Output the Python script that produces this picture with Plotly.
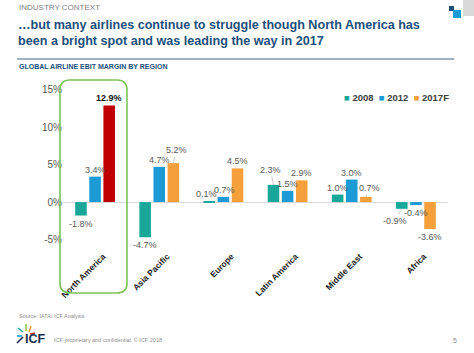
import plotly.graph_objects as go

# ---- data ----
regions = ["North America", "Asia Pacific", "Europe", "Latin America", "Middle East", "Africa"]
series_names = ["2008", "2012", "2017F"]
v2008 = [-1.8, -4.7, 0.1, 2.3, 1.0, -0.9]
v2012 = [3.4, 4.7, 0.7, 1.5, 3.0, -0.4]
v2017 = [12.9, 5.2, 4.5, 2.9, 0.7, -3.6]
y_ticks = [-5, 0, 5, 10, 15]

# ---- style ----
W, H = 474, 353
ML, MR, MT, MB = 63, 26, 86, 106
PW, PH = W - ML - MR, H - MT - MB
YMIN, YMAX = -6, 15.5
c_teal, c_blue, c_orange, c_red = "#19a79a", "#1b9ad6", "#f5a03b", "#c00000"
navy = "#1b4f7c"
gray = "#595959"
FONT = "Liberation Sans, Arial, sans-serif"

def xp(px):
    return (px - ML) / PW

def yp(py):
    return (H - MB - py) / PH

fig = go.Figure()
xs = list(range(len(regions)))
colors_2017 = [c_red] + [c_orange] * (len(regions) - 1)
for name, vals, col in [("2008", v2008, c_teal), ("2012", v2012, c_blue), ("2017F", v2017, colors_2017)]:
    fig.add_trace(go.Bar(x=xs, y=vals, name=name, marker=dict(color=col, line=dict(width=0)),
                         showlegend=False, hoverinfo="skip"))

BARGAP = 0.34
slot = (1 - BARGAP) / 3
annotations = []
# label offsets (style): (series index, region index) -> (ax, ay) in px for leader-line labels
leader = {(2, 1): (3, -13), (0, 3): (-3, -15), (2, 4): (4, -9), (0, 5): (-7, 12)}
xshift = {(0, 2): -3, (1, 2): 1}
for si, vals in enumerate([v2008, v2012, v2017]):
    for ri, v in enumerate(vals):
        xc = ri + (si - 1) * slot
        txt = f"{v:.1f}%"
        bold = (si == 2 and ri == 0)
        font = dict(family=FONT, size=9, color="#111111" if bold else gray)
        if bold:
            txt = "<b>" + txt + "</b>"
        if (si, ri) in leader:
            ax, ay = leader[(si, ri)]
            annotations.append(dict(x=xc, y=v, xref="x", yref="y", text=txt, showarrow=True,
                                    arrowhead=0, arrowwidth=0.8, arrowcolor="#bfbfbf",
                                    ax=ax, ay=ay, font=font, standoff=0))
        else:
            annotations.append(dict(x=xc, y=v, xref="x", yref="y", text=txt, showarrow=False,
                                    yanchor="bottom" if v >= 0 else "top",
                                    xshift=xshift.get((si, ri), 0),
                                    yshift=0 if v >= 0 else -1, font=font))

# header texts
annotations += [
    dict(x=xp(17), y=yp(7), xref="paper", yref="paper", text="INDUSTRY CONTEXT", showarrow=False,
         xanchor="left", yanchor="middle", font=dict(family=FONT, size=8, color="#7f7f7f")),
    dict(x=xp(16), y=yp(33), xref="paper", yref="paper",
         text="<b>…but many airlines continue to struggle though North America has<br>been a bright spot and was leading the way in 2017</b>",
         showarrow=False, xanchor="left", yanchor="middle", align="left",
         font=dict(family=FONT, size=12.6, color=navy)),
    dict(x=xp(17), y=yp(66), xref="paper", yref="paper", text="<b>GLOBAL AIRLINE EBIT MARGIN BY REGION</b>",
         showarrow=False, xanchor="left", yanchor="middle", font=dict(family=FONT, size=7, color=navy)),
    dict(x=xp(342), y=yp(97), xref="paper", yref="paper",
         text=(f"<span style='color:{c_teal}'>■</span> <b>2008</b>  "
               f"<span style='color:{c_blue}'>■</span> <b>2012</b>  "
               f"<span style='color:{c_orange}'>■</span> <b>2017F</b>"),
         showarrow=False, xanchor="left", yanchor="middle", font=dict(family=FONT, size=9.5, color="#404040")),
    dict(x=xp(17), y=yp(316), xref="paper", yref="paper", text="Source: IATA/ ICF Analysis", showarrow=False,
         xanchor="left", yanchor="middle", font=dict(family=FONT, size=5.5, color="#8c8c8c")),
    dict(x=xp(52), y=yp(340), xref="paper", yref="paper", text="ICF proprietary and confidential. © ICF 2018",
         showarrow=False, xanchor="left", yanchor="middle", font=dict(family=FONT, size=5.5, color="#8c8c8c")),
    dict(x=xp(455), y=yp(340), xref="paper", yref="paper", text="5", showarrow=False,
         xanchor="center", yanchor="middle", font=dict(family=FONT, size=7, color="#8c8c8c")),
    dict(x=xp(23), y=yp(339), xref="paper", yref="paper", text="<b>ICF</b>", showarrow=False,
         xanchor="left", yanchor="middle", font=dict(family=FONT, size=12.5, color="#1a2b4c")),
]

shapes = []
# rule under title
shapes.append(dict(type="line", xref="paper", yref="paper", x0=xp(17), x1=xp(454), y0=yp(59), y1=yp(59),
                   line=dict(color="#3f6688", width=1)))
# rounded highlight box around North America
L, R, T, B, r = 60, 127, 80, 293, 10
path = (f"M {xp(L + r)},{yp(T)} L {xp(R - r)},{yp(T)} Q {xp(R)},{yp(T)} {xp(R)},{yp(T + r)} "
        f"L {xp(R)},{yp(B - r)} Q {xp(R)},{yp(B)} {xp(R - r)},{yp(B)} "
        f"L {xp(L + r)},{yp(B)} Q {xp(L)},{yp(B)} {xp(L)},{yp(B - r)} "
        f"L {xp(L)},{yp(T + r)} Q {xp(L)},{yp(T)} {xp(L + r)},{yp(T)} Z")
shapes.append(dict(type="path", xref="paper", yref="paper", path=path,
                   line=dict(color="#7cc35a", width=1.6)))
# decorative squares top right
for (x0, y0, x1, y1, col) in [(463, 0, 474, 16, "#d9d9d9"), (449, 6, 454, 11, "#1b4f7c"), (453, 10, 461, 18, "#1b9ad6")]:
    shapes.append(dict(type="rect", xref="paper", yref="paper", x0=xp(x0), x1=xp(x1), y0=yp(y0), y1=yp(y1),
                       line=dict(width=0), fillcolor=col))
# ICF logo rays
for (x0, y0, x1, y1, col) in [(18, 328, 23, 332, "#19a79a"), (26, 324, 26, 331, "#9bc53d"),
                              (31, 326, 29, 332, "#f5a03b"), (35, 333, 30, 334, "#c0392b"),
                              (17, 343, 23, 337, "#1a2b4c"), (17, 336, 22, 336, "#1b9ad6")]:
    shapes.append(dict(type="line", xref="paper", yref="paper", x0=xp(x0), x1=xp(x1), y0=yp(y0), y1=yp(y1),
                       line=dict(color=col, width=1.6)))

fig.update_layout(
    width=W, height=H, margin=dict(l=ML, r=MR, t=MT, b=MB),
    paper_bgcolor="white", plot_bgcolor="white",
    barmode="group", bargap=BARGAP, bargroupgap=0.18,
    font=dict(family=FONT),
    annotations=annotations, shapes=shapes,
    xaxis=dict(range=[-0.5, len(regions) - 0.5], tickvals=xs, ticktext=[f"<b>{r}</b>" for r in regions],
               tickangle=-45, showgrid=False, zeroline=False, showline=False, ticks="",
               ticklabelshift=8, ticklabelstandoff=2,
               tickfont=dict(family=FONT, size=8.5, color="#1a1a1a")),
    yaxis=dict(range=[YMIN, YMAX], tickvals=y_ticks, ticktext=[f"{t}%" for t in y_ticks],
               showgrid=False, zeroline=True, zerolinecolor="#d9d9d9", zerolinewidth=1,
               showline=False, ticks="", tickfont=dict(family=FONT, size=10, color=gray)),
)

fig.write_html("out.html")
